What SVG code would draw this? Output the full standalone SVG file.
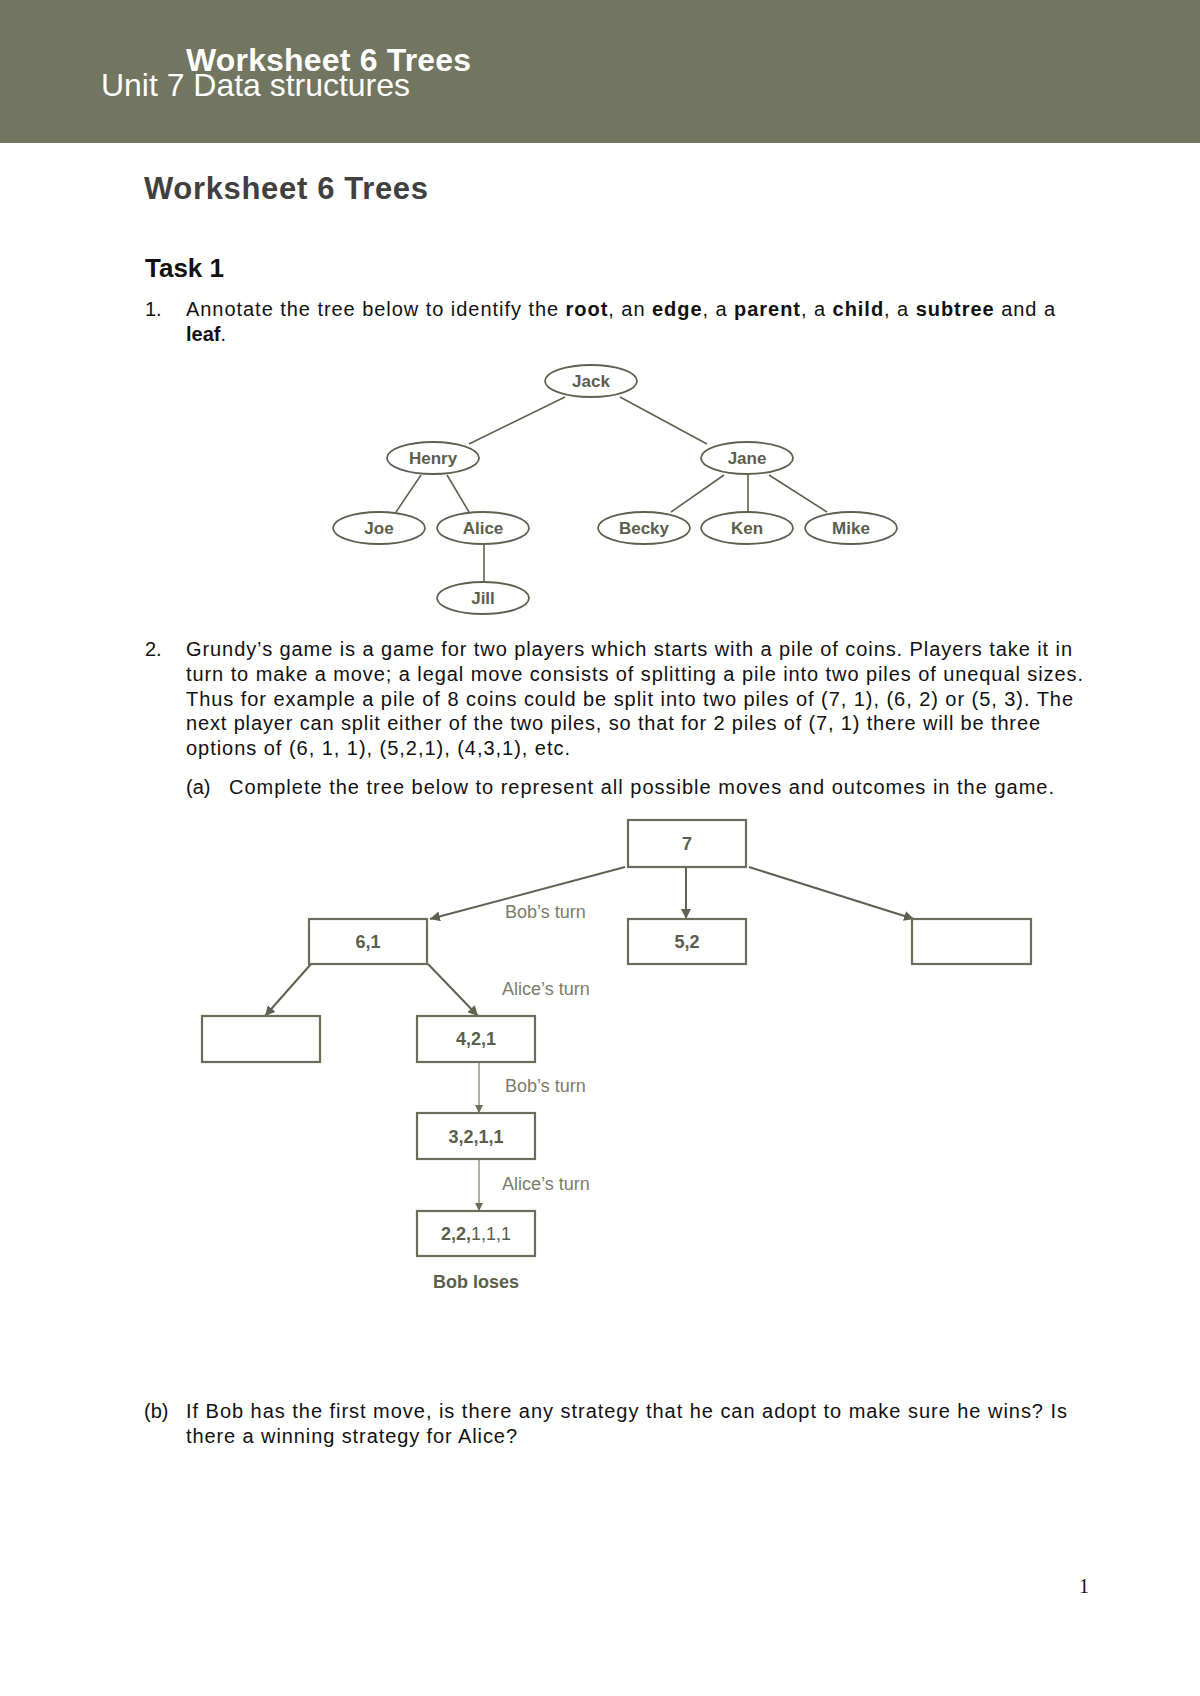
<svg xmlns="http://www.w3.org/2000/svg" width="1200" height="1696" viewBox="0 0 1200 1696">
<style>
.hdr{font-family:"Liberation Sans",Arial,sans-serif;fill:#ffffff}
.body{font-family:"Liberation Sans",Arial,sans-serif;font-size:20px;fill:#111111}
.b{font-weight:bold}
.ell{fill:#ffffff;stroke:#5f6150;stroke-width:1.8}
.etxt{font-family:"Liberation Sans",Arial,sans-serif;font-size:17px;font-weight:bold;fill:#5c5e4c;text-anchor:middle}
.edge{stroke:#5f6150;stroke-width:1.6;fill:none}
.box{fill:#ffffff;stroke:#6b6d5a;stroke-width:2.2}
.btxt{font-family:"Liberation Sans",Arial,sans-serif;font-size:18px;font-weight:bold;fill:#5c5e4c;text-anchor:middle}
.lbl{font-family:"Liberation Sans",Arial,sans-serif;font-size:18px;fill:#7a7c6a}
.arr{stroke:#5f6150;stroke-width:2;fill:none;marker-end:url(#ah)}
.arrt{stroke:#7a7c6a;stroke-width:1.2;fill:none;marker-end:url(#ahs)}
</style>
<defs>
<marker id="ah" viewBox="0 0 10 10" refX="10" refY="5" markerWidth="5" markerHeight="5" orient="auto" markerUnits="strokeWidth">
<path d="M0,0 L10,5 L0,10 z" fill="#5f6150"/>
</marker>
<marker id="ahs" viewBox="0 0 10 10" refX="10" refY="5" markerWidth="7" markerHeight="7" orient="auto" markerUnits="strokeWidth">
<path d="M0,0 L10,5 L0,10 z" fill="#6b6d5a"/>
</marker>
</defs>
<rect x="0" y="0" width="1200" height="1696" fill="#ffffff"/>
<g id="header">
<rect x="0" y="0" width="1200" height="143" fill="#72755f"/>
<text class="hdr b" x="186" y="71" font-size="32" textLength="285">Worksheet 6 Trees</text>
<text class="hdr" x="101" y="96" font-size="32" textLength="309">Unit 7 Data structures</text>
</g>
<g id="texts">
<text x="144" y="199" font-family="Liberation Sans,Arial,sans-serif" font-size="31" font-weight="bold" fill="#404040" textLength="284">Worksheet 6 Trees</text>
<text x="145" y="277" font-family="Liberation Sans,Arial,sans-serif" font-size="26" font-weight="bold" fill="#111111">Task 1</text>
<text class="body" x="145" y="316">1.</text>
<text class="body" x="186" y="316" textLength="869">Annotate the tree below to identify the <tspan class="b">root</tspan>, an <tspan class="b">edge</tspan>, a <tspan class="b">parent</tspan>, a <tspan class="b">child</tspan>, a <tspan class="b">subtree</tspan> and a</text>
<text class="body" x="186" y="341"><tspan class="b">leaf</tspan>.</text>
<text class="body" x="145" y="656">2.</text>
<text class="body" x="186" y="656" textLength="886">Grundy’s game is a game for two players which starts with a pile of coins. Players take it in</text>
<text class="body" x="186" y="681" textLength="897">turn to make a move; a legal move consists of splitting a pile into two piles of unequal sizes.</text>
<text class="body" x="186" y="705.5" textLength="887">Thus for example a pile of 8 coins could be split into two piles of (7, 1), (6, 2) or (5,  3). The</text>
<text class="body" x="186" y="730" textLength="854">next player can split either of the two piles, so that for 2 piles of (7, 1) there will be three</text>
<text class="body" x="186" y="755" textLength="384">options of (6, 1, 1), (5,2,1), (4,3,1),  etc.</text>
<text class="body" x="186" y="794">(a)</text>
<text class="body" x="229" y="794" textLength="825">Complete the tree below to represent all possible moves and outcomes in the game.</text>
<text class="body" x="144" y="1418">(b)</text>
<text class="body" x="186" y="1418" textLength="881">If Bob has the first move, is there any strategy that he can adopt to make sure he wins? Is</text>
<text class="body" x="186" y="1443" textLength="331">there a winning strategy for Alice?</text>
<text x="1079" y="1593" font-family="Liberation Serif,Times New Roman,serif" font-size="20" fill="#111111">1</text>
</g>
<g id="connectors">
<line class="edge" x1="565" y1="397" x2="469" y2="444"/>
<line class="edge" x1="620" y1="397" x2="707" y2="444"/>
<line class="edge" x1="421" y1="475" x2="396" y2="512"/>
<line class="edge" x1="447" y1="475" x2="469" y2="512"/>
<line class="edge" x1="484" y1="545" x2="484" y2="582"/>
<line class="edge" x1="724" y1="475" x2="671" y2="512"/>
<line class="edge" x1="748" y1="475" x2="748" y2="512"/>
<line class="edge" x1="769" y1="475" x2="827" y2="512"/>
<line class="arr" x1="625" y1="867" x2="430" y2="919"/>
<line class="arr" x1="686" y1="867" x2="686" y2="919"/>
<line class="arr" x1="749" y1="867" x2="914" y2="919"/>
<line class="arr" x1="311" y1="964" x2="265" y2="1016"/>
<line class="arr" x1="428" y1="964" x2="478" y2="1016"/>
<line class="arrt" x1="479" y1="1063" x2="479" y2="1113"/>
<line class="arrt" x1="479" y1="1160" x2="479" y2="1211"/>
</g>
<g id="n-jack"><ellipse class="ell" cx="591" cy="381" rx="46" ry="16"/><text class="etxt" x="591" y="387">Jack</text></g>
<g id="n-henry"><ellipse class="ell" cx="433" cy="458" rx="46" ry="16"/><text class="etxt" x="433" y="464">Henry</text></g>
<g id="n-jane"><ellipse class="ell" cx="747" cy="458" rx="46" ry="16"/><text class="etxt" x="747" y="464">Jane</text></g>
<g id="n-joe"><ellipse class="ell" cx="379" cy="528" rx="46" ry="16"/><text class="etxt" x="379" y="534">Joe</text></g>
<g id="n-alice"><ellipse class="ell" cx="483" cy="528" rx="46" ry="16"/><text class="etxt" x="483" y="534">Alice</text></g>
<g id="n-becky"><ellipse class="ell" cx="644" cy="528" rx="46" ry="16"/><text class="etxt" x="644" y="534">Becky</text></g>
<g id="n-ken"><ellipse class="ell" cx="747" cy="528" rx="46" ry="16"/><text class="etxt" x="747" y="534">Ken</text></g>
<g id="n-mike"><ellipse class="ell" cx="851" cy="528" rx="46" ry="16"/><text class="etxt" x="851" y="534">Mike</text></g>
<g id="n-jill"><ellipse class="ell" cx="483" cy="598" rx="46" ry="16"/><text class="etxt" x="483" y="604">Jill</text></g>
<g id="b-7"><rect class="box" x="628" y="820" width="118" height="47"/><text class="btxt" x="687" y="850">7</text></g>
<g id="b-61"><rect class="box" x="309" y="919" width="118" height="45"/><text class="btxt" x="368" y="948">6,1</text></g>
<g id="b-52"><rect class="box" x="628" y="919" width="118" height="45"/><text class="btxt" x="687" y="948">5,2</text></g>
<g id="b-right"><rect class="box" x="912" y="919" width="119" height="45"/></g>
<g id="b-left"><rect class="box" x="202" y="1016" width="118" height="46"/></g>
<g id="b-421"><rect class="box" x="417" y="1016" width="118" height="46"/><text class="btxt" x="476" y="1045">4,2,1</text></g>
<g id="b-3211"><rect class="box" x="417" y="1113" width="118" height="46"/><text class="btxt" x="476" y="1143">3,2,1,1</text></g>
<g id="b-22111"><rect class="box" x="417" y="1211" width="118" height="45"/><text class="btxt" x="476" y="1240">2,2,<tspan font-weight="normal">1,1,1</tspan></text></g>
<g id="labels">
<text class="lbl" x="505" y="918">Bob’s turn</text>
<text class="lbl" x="502" y="995">Alice’s turn</text>
<text class="lbl" x="505" y="1092">Bob’s turn</text>
<text class="lbl" x="502" y="1190">Alice’s turn</text>
<text class="btxt" x="476" y="1288">Bob loses</text>
</g>
</svg>
